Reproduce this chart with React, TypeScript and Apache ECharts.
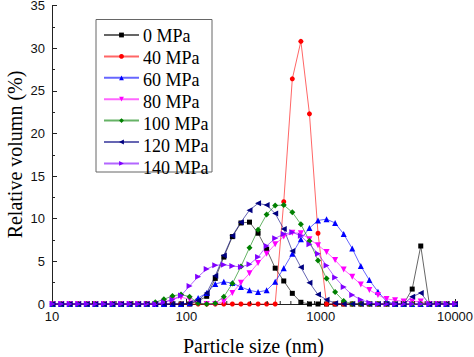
import React, { useEffect, useRef } from "react";
import * as echarts from "echarts";

// Particle size bins (nm)
const sizes = [10.1, 11.7, 13.54, 15.69, 18.17, 21.04, 24.36, 28.21, 32.67, 37.84, 43.82, 50.75, 58.77, 68.06, 78.82, 91.28, 105.7, 122.4, 141.8, 164.2, 190.1, 220.2, 255.0, 295.3, 342.0, 396.1, 458.7, 531.2, 615.1, 712.4, 825.0, 955.4, 1106, 1281, 1484, 1718, 1990, 2305, 2669, 3091, 3580, 4145, 4801, 5560, 6439, 7456, 8635, 10000];

const names = ["0 MPa", "40 MPa", "60 MPa", "80 MPa", "100 MPa", "120 MPa", "140 MPa"];
const xName = "Particle size (nm)";
const yName = "Relative volumn (%)";

const p0 = [0, 0, 0, 0, 0, 0, 0, 0, 0, 0, 0, 0, 0, 0, 0, 0, 0, 0.35, 0.9, 3.0, 5.5, 7.9, 9.5, 9.6, 8.3, 6.4, 4.2, 2.7, 1.25, 0.2, 0, 0, 0, 0, 0, 0, 0, 0, 0, 0, 0, 0, 1.75, 6.8, 0, 0, 0, 0];
const p40 = [0, 0, 0, 0, 0, 0, 0, 0, 0, 0, 0, 0, 0, 0, 0, 0, 0, 0, 0, 0, 0, 0, 0, 0, 0, 0, 0, 12.0, 26.4, 30.8, 22.3, 8.3, 0, 0, 0, 0, 0, 0, 0, 0, 0, 0, 0, 0, 0, 0, 0, 0];
const p60 = [0, 0, 0, 0, 0, 0, 0, 0, 0, 0, 0, 0, 0, 0, 0, 0, 0.1, 0.7, 1.3, 2.35, 2.6, 2.45, 2.0, 1.6, 1.4, 1.6, 2.6, 4.2, 5.9, 7.6, 8.9, 9.8, 9.95, 9.5, 8.2, 6.5, 4.45, 2.8, 1.45, 0.3, 0, 0, 0, 0, 0, 0, 0, 0];
const p80 = [0, 0, 0, 0, 0, 0, 0, 0, 0, 0, 0, 0, 0, 0.2, 0.55, 0.8, 0.55, 0.1, 0, 0, 0.3, 1.3, 2.5, 3.6, 4.8, 5.9, 7.0, 7.9, 8.35, 8.3, 7.6, 6.9, 6.1, 5.15, 4.05, 3.2, 2.3, 1.65, 1.05, 0.6, 0.45, 0.3, 0.3, 0.3, 0, 0, 0, 0];
const p100 = [0, 0, 0, 0, 0, 0, 0, 0, 0, 0, 0, 0, 0.2, 0.55, 0.95, 1.12, 0.85, 0.1, 0, 0.1, 0.85, 2.4, 4.4, 6.6, 8.7, 10.5, 11.55, 11.6, 10.75, 9.35, 7.4, 5.1, 3.0, 1.4, 0.35, 0, 0, 0, 0, 0, 0, 0, 0, 0, 0, 0, 0, 0];
const p120 = [0, 0, 0, 0, 0, 0, 0, 0, 0, 0, 0, 0, 0, 0, 0, 0, 0.1, 0.4, 1.3, 3.3, 5.7, 8.0, 9.6, 11.0, 11.8, 11.6, 10.6, 8.8, 6.2, 4.3, 2.5, 1.1, 0.5, 0.1, 0, 0, 0, 0, 0, 0, 0, 0, 0.85, 1.3, 0, 0, 0, 0];
const p140 = [0, 0, 0, 0, 0, 0, 0, 0, 0, 0, 0, 0, 0, 0.2, 0.5, 1.0, 2.1, 3.2, 4.1, 4.55, 4.6, 4.45, 4.35, 4.65, 5.5, 6.8, 7.7, 8.2, 8.4, 8.0, 7.0, 5.9, 4.5, 3.1, 2.0, 1.05, 0.5, 0.15, 0, 0, 0, 0, 0, 0, 0, 0, 0, 0];

const values = [p0, p40, p60, p80, p100, p120, p140];
const colors = ["#000000", "#ff0000", "#0000ff", "#ff00ff", "#008000", "#000080", "#8000ff"];
const symbols = ["rect", "circle", "triangle", "triangle", "diamond", "triangle", "triangle"];
const rotations = [0, 0, 0, 180, 0, 90, -90];
const symbolSizes = [5, 5, 6, 6, 6, 6, 6];

const minorTickValues = [20, 30, 40, 50, 60, 70, 80, 90, 200, 300, 400, 500, 600, 700, 800, 900, 2000, 3000, 4000, 5000, 6000, 7000, 8000, 9000];

const serif = "Liberation Serif";
const sans = "Liberation Sans";

export default function App() {
  const ref = useRef<HTMLDivElement>(null);
  useEffect(() => {
    if (!ref.current) return;
    const chart = echarts.init(ref.current, undefined, { renderer: "svg" });
    const lineSeries = names.map((name, k) => ({
      name,
      type: "line",
      data: sizes.map((s, i) => [s, values[k][i]]),
      symbol: symbols[k],
      symbolRotate: rotations[k],
      symbolSize: symbolSizes[k],
      showAllSymbol: true,
      itemStyle: { color: colors[k] },
      lineStyle: { color: colors[k], width: 1, opacity: 0.6 },
      emphasis: { disabled: true },
      clip: false,
    }));
    const legendTexts = names.map((n, k) => ({
      type: "text",
      x: 143,
      y: 36 + 22 * k,
      style: { text: n, fontFamily: "Times New Roman", fontSize: 18, fill: "#000", verticalAlign: "middle" },
    }));
    chart.setOption({
      animation: false,
      backgroundColor: "#ffffff",
      grid: { left: 52, right: 19, top: 5.5, bottom: 53, containLabel: false, outerBoundsMode: "none" },
      legend: {
        data: names,
        orient: "vertical",
        left: 103,
        top: 32,
        padding: 0,
        itemWidth: 35,
        itemHeight: 6,
        itemGap: 16,
        formatter: () => "",
        selectedMode: false,
      },
      graphic: [
        {
          type: "rect",
          shape: { x: 96, y: 19.5, width: 116, height: 152.5 },
          style: { fill: "none", stroke: "#666", lineWidth: 1 },
        },
        ...legendTexts,
        {
          type: "text",
          x: 253.5,
          y: 336,
          style: { text: xName, fontFamily: serif, fontSize: 20, fill: "#000", align: "center", verticalAlign: "top" },
        },
        {
          type: "text",
          x: 15,
          y: 154.5,
          rotation: Math.PI / 2,
          style: { text: yName, fontFamily: serif, fontSize: 20, fill: "#000", align: "center", verticalAlign: "middle" },
        },
      ],
      xAxis: {
        type: "log",
        logBase: 10,
        min: 10,
        max: 10000,
        axisLine: { lineStyle: { color: "#222", width: 1 } },
        axisTick: { inside: true, length: 5, lineStyle: { color: "#222" } },
        axisLabel: {
          fontFamily: sans,
          fontSize: 13,
          color: "#111",
          margin: 6,
          formatter: (v: number) => String(Math.round(v)),
        },
        splitLine: { show: false },
      },
      yAxis: {
        type: "value",
        min: 0,
        max: 35,
        interval: 5,
        axisLine: { show: true, lineStyle: { color: "#222", width: 1 } },
        axisTick: { show: true, inside: true, length: 5, lineStyle: { color: "#222" } },
        minorTick: { show: true, splitNumber: 2, length: 3, lineStyle: { color: "#222" } },
        axisLabel: { fontFamily: sans, fontSize: 13, color: "#111", margin: 7 },
        splitLine: { show: false },
      },
      series: [
        ...lineSeries,
        {
          type: "custom",
          name: "minorTicks",
          silent: true,
          clip: false,
          z: 10,
          data: minorTickValues.map((v) => [v, 0]),
          renderItem: (params: any, api: any) => {
            const p = api.coord([api.value(0), 0]);
            return {
              type: "line",
              shape: { x1: p[0], y1: p[1], x2: p[0], y2: p[1] - 3 },
              style: { stroke: "#222", lineWidth: 1 },
            };
          },
        },
      ],
    });
    return () => chart.dispose();
  }, []);
  return (
    <div
      ref={ref}
      style={{ position: "fixed", left: 0, top: 0, width: 474, height: 357, background: "#fff" }}
    />
  );
}
